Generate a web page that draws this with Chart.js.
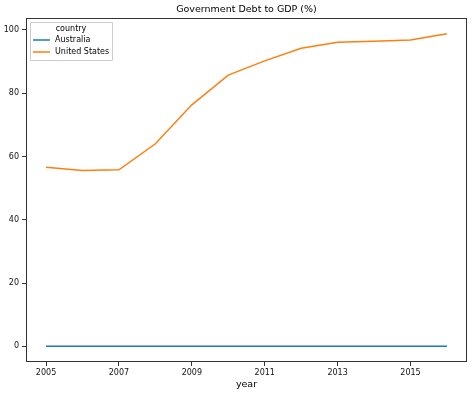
<!DOCTYPE html>
<html>
<head>
<meta charset="utf-8">
<script src="https://cdn.jsdelivr.net/npm/chart.js@4.4.1/dist/chart.umd.min.js"></script>
<style>
  html, body { margin: 0; padding: 0; background: #fff; }
  #wrap { width: 474px; height: 395px; }
</style>
</head>
<body>
<div id="wrap"><canvas id="debt_graph"></canvas></div>
<script>
const years = [2005, 2006, 2007, 2008, 2009, 2010, 2011, 2012, 2013, 2014, 2015, 2016];
const australia = [0, 0, 0, 0, 0, 0, 0, 0, 0, 0, 0, 0];
const unitedStates = [56.6, 55.6, 55.8, 64.0, 76.3, 85.7, 90.2, 94.2, 96.1, 96.4, 96.8, 98.8];
const xTicks = [2005, 2007, 2009, 2011, 2013, 2015];
const yTicks = [0, 20, 40, 60, 80, 100];

const font = "'DejaVu Sans', sans-serif";

const toPoints = (vals) => years.map((y, i) => ({ x: y, y: vals[i] }));

// matplotlib-like frame, title and legend box
const mplDecor = {
  id: "mplDecor",
  afterDraw(chart) {
    const { ctx, chartArea: a } = chart;
    ctx.save();
    ctx.strokeStyle = "#333";
    ctx.lineWidth = 1;
    ctx.strokeRect(Math.round(a.left) + 0.5, Math.round(a.top) + 0.5,
      Math.round(a.right - a.left) - 1, Math.round(a.bottom - a.top) - 1);

    ctx.fillStyle = "#000";
    ctx.font = "9.5px " + font;
    ctx.textAlign = "center";
    ctx.textBaseline = "middle";
    ctx.fillText("Government Debt to GDP (%)", (a.left + a.right) / 2, 10);

    // legend
    const lx = a.left + 4, ly = a.top + 4;
    ctx.fillStyle = "rgba(255,255,255,0.8)";
    ctx.strokeStyle = "#ccc";
    ctx.beginPath();
    ctx.rect(lx + 0.5, ly + 0.5, 82, 38);
    ctx.fill();
    ctx.stroke();
    ctx.fillStyle = "#000";
    ctx.font = "8px " + font;
    ctx.fillText("country", lx + 41, ly + 7);
    ctx.textAlign = "left";
    chart.data.datasets.forEach((ds, i) => {
      const yy = ly + 18 + i * 12;
      ctx.strokeStyle = ds.borderColor;
      ctx.lineWidth = 1.5;
      ctx.beginPath();
      ctx.moveTo(lx + 3, yy);
      ctx.lineTo(lx + 20, yy);
      ctx.stroke();
      ctx.fillStyle = "#000";
      ctx.fillText(ds.label, lx + 25, yy);
    });
    ctx.restore();
  },
};

window.debt_graph = new Chart(document.getElementById("debt_graph"), {
  type: "line",
  data: {
    datasets: [
      {
        label: "Australia",
        data: toPoints(australia),
        borderColor: "#1f77b4",
        borderWidth: 1.5,
        pointRadius: 0,
        fill: false,
      },
      {
        label: "United States",
        data: toPoints(unitedStates),
        borderColor: "#ff7f0e",
        borderWidth: 1.5,
        pointRadius: 0,
        fill: false,
      },
    ],
  },
  options: {
    responsive: true,
    maintainAspectRatio: false,
    animation: false,
    tension: 0,
    layout: { padding: { top: 18, right: 7, left: 0, bottom: 0 } },
    plugins: {
      legend: { display: false },
      title: { display: false },
      tooltip: { enabled: false },
    },
    scales: {
      x: {
        type: "linear",
        min: 2004.45,
        max: 2016.55,
        afterBuildTicks: (s) => { s.ticks = xTicks.map((v) => ({ value: v })); },
        afterFit: (s) => { s.height = 33; },
        grid: { drawOnChartArea: false, drawTicks: true, tickLength: 4, color: "#333" },
        border: { display: false },
        ticks: { color: "#111", font: { family: font, size: 8 }, padding: 2, maxRotation: 0, callback: (v) => String(v) },
        title: { display: true, text: "year", color: "#000", font: { family: font, size: 9.5 }, padding: { top: 0, bottom: 5 } },
      },
      y: {
        min: -4.94,
        max: 103.74,
        afterBuildTicks: (s) => { s.ticks = yTicks.map((v) => ({ value: v })); },
        afterFit: (s) => { s.width = 26; },
        grid: { drawOnChartArea: false, drawTicks: true, tickLength: 4, color: "#333" },
        border: { display: false },
        ticks: { color: "#111", font: { family: font, size: 8 }, padding: 3 },
      },
    },
  },
  plugins: [mplDecor],
});
</script>
</body>
</html>
